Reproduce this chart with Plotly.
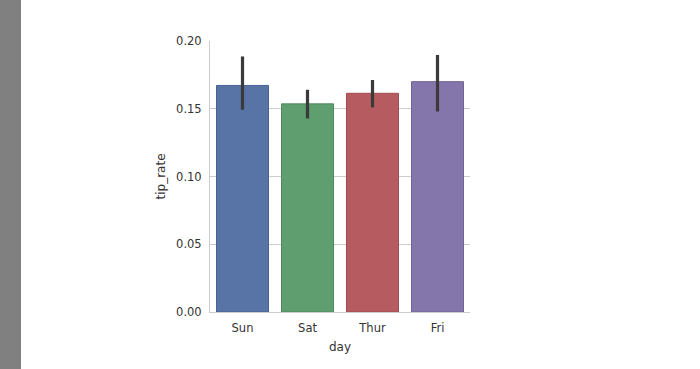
import plotly.graph_objects as go

days = ["Sun", "Sat", "Thur", "Fri"]
tip_rate = [0.1672, 0.1536, 0.1614, 0.1700]
ci_low = [0.1493, 0.1428, 0.1510, 0.1480]
ci_high = [0.1886, 0.1640, 0.1712, 0.1897]
colors = ["#5873a6", "#5f9e6e", "#b65b5f", "#8475ab"]
edge_colors = ["#4a6290", "#4f8a5e", "#9e4d50", "#716396"]
y_ticks = [0.0, 0.05, 0.10, 0.15, 0.20]

err_plus = [h - v for h, v in zip(ci_high, tip_rate)]
err_minus = [v - l for v, l in zip(tip_rate, ci_low)]

fig = go.Figure()
fig.add_trace(go.Bar(
    x=days, y=tip_rate,
    marker=dict(color=colors, line=dict(color=edge_colors, width=1)),
    width=0.8,
    error_y=dict(type="data", symmetric=False, array=err_plus, arrayminus=err_minus,
                 color="#3a3a3a", thickness=3.2, width=0),
    hoverinfo="skip",
))

fig.add_shape(type="rect", xref="paper", yref="paper",
              x0=-210/260, x1=-189/260, y0=-0.3, y1=1.3,
              fillcolor="#808080", line=dict(width=0), layer="below")

fig.update_layout(
    width=700, height=369,
    margin=dict(l=210, r=230, t=41, b=57),
    paper_bgcolor="white", plot_bgcolor="white",
    showlegend=False,
    font=dict(family="DejaVu Sans", size=11, color="#333333"),
    bargap=0.2,
)
fig.update_xaxes(
    title=dict(text="day", font=dict(size=12, color="#333333"), standoff=8),
    showgrid=False, showline=True, linecolor="#cccccc", linewidth=1,
    ticks="", ticklabelstandoff=5, tickfont=dict(size=11.5, color="#333333"),
)
fig.update_yaxes(
    title=dict(text="tip_rate", font=dict(size=12, color="#333333"), standoff=7),
    range=[0, 0.2], tickvals=y_ticks, ticktext=["%.2f" % v for v in y_ticks],
    showgrid=True, gridcolor="#cccccc", gridwidth=1,
    showline=True, linecolor="#cccccc", linewidth=1,
    zeroline=False, ticks="", ticklabelstandoff=5, tickfont=dict(size=11.5, color="#333333"),
)

fig.write_html("out.html", config={"displayModeBar": False},
               post_script="document.body.style.margin='0';document.body.style.padding='0';")
